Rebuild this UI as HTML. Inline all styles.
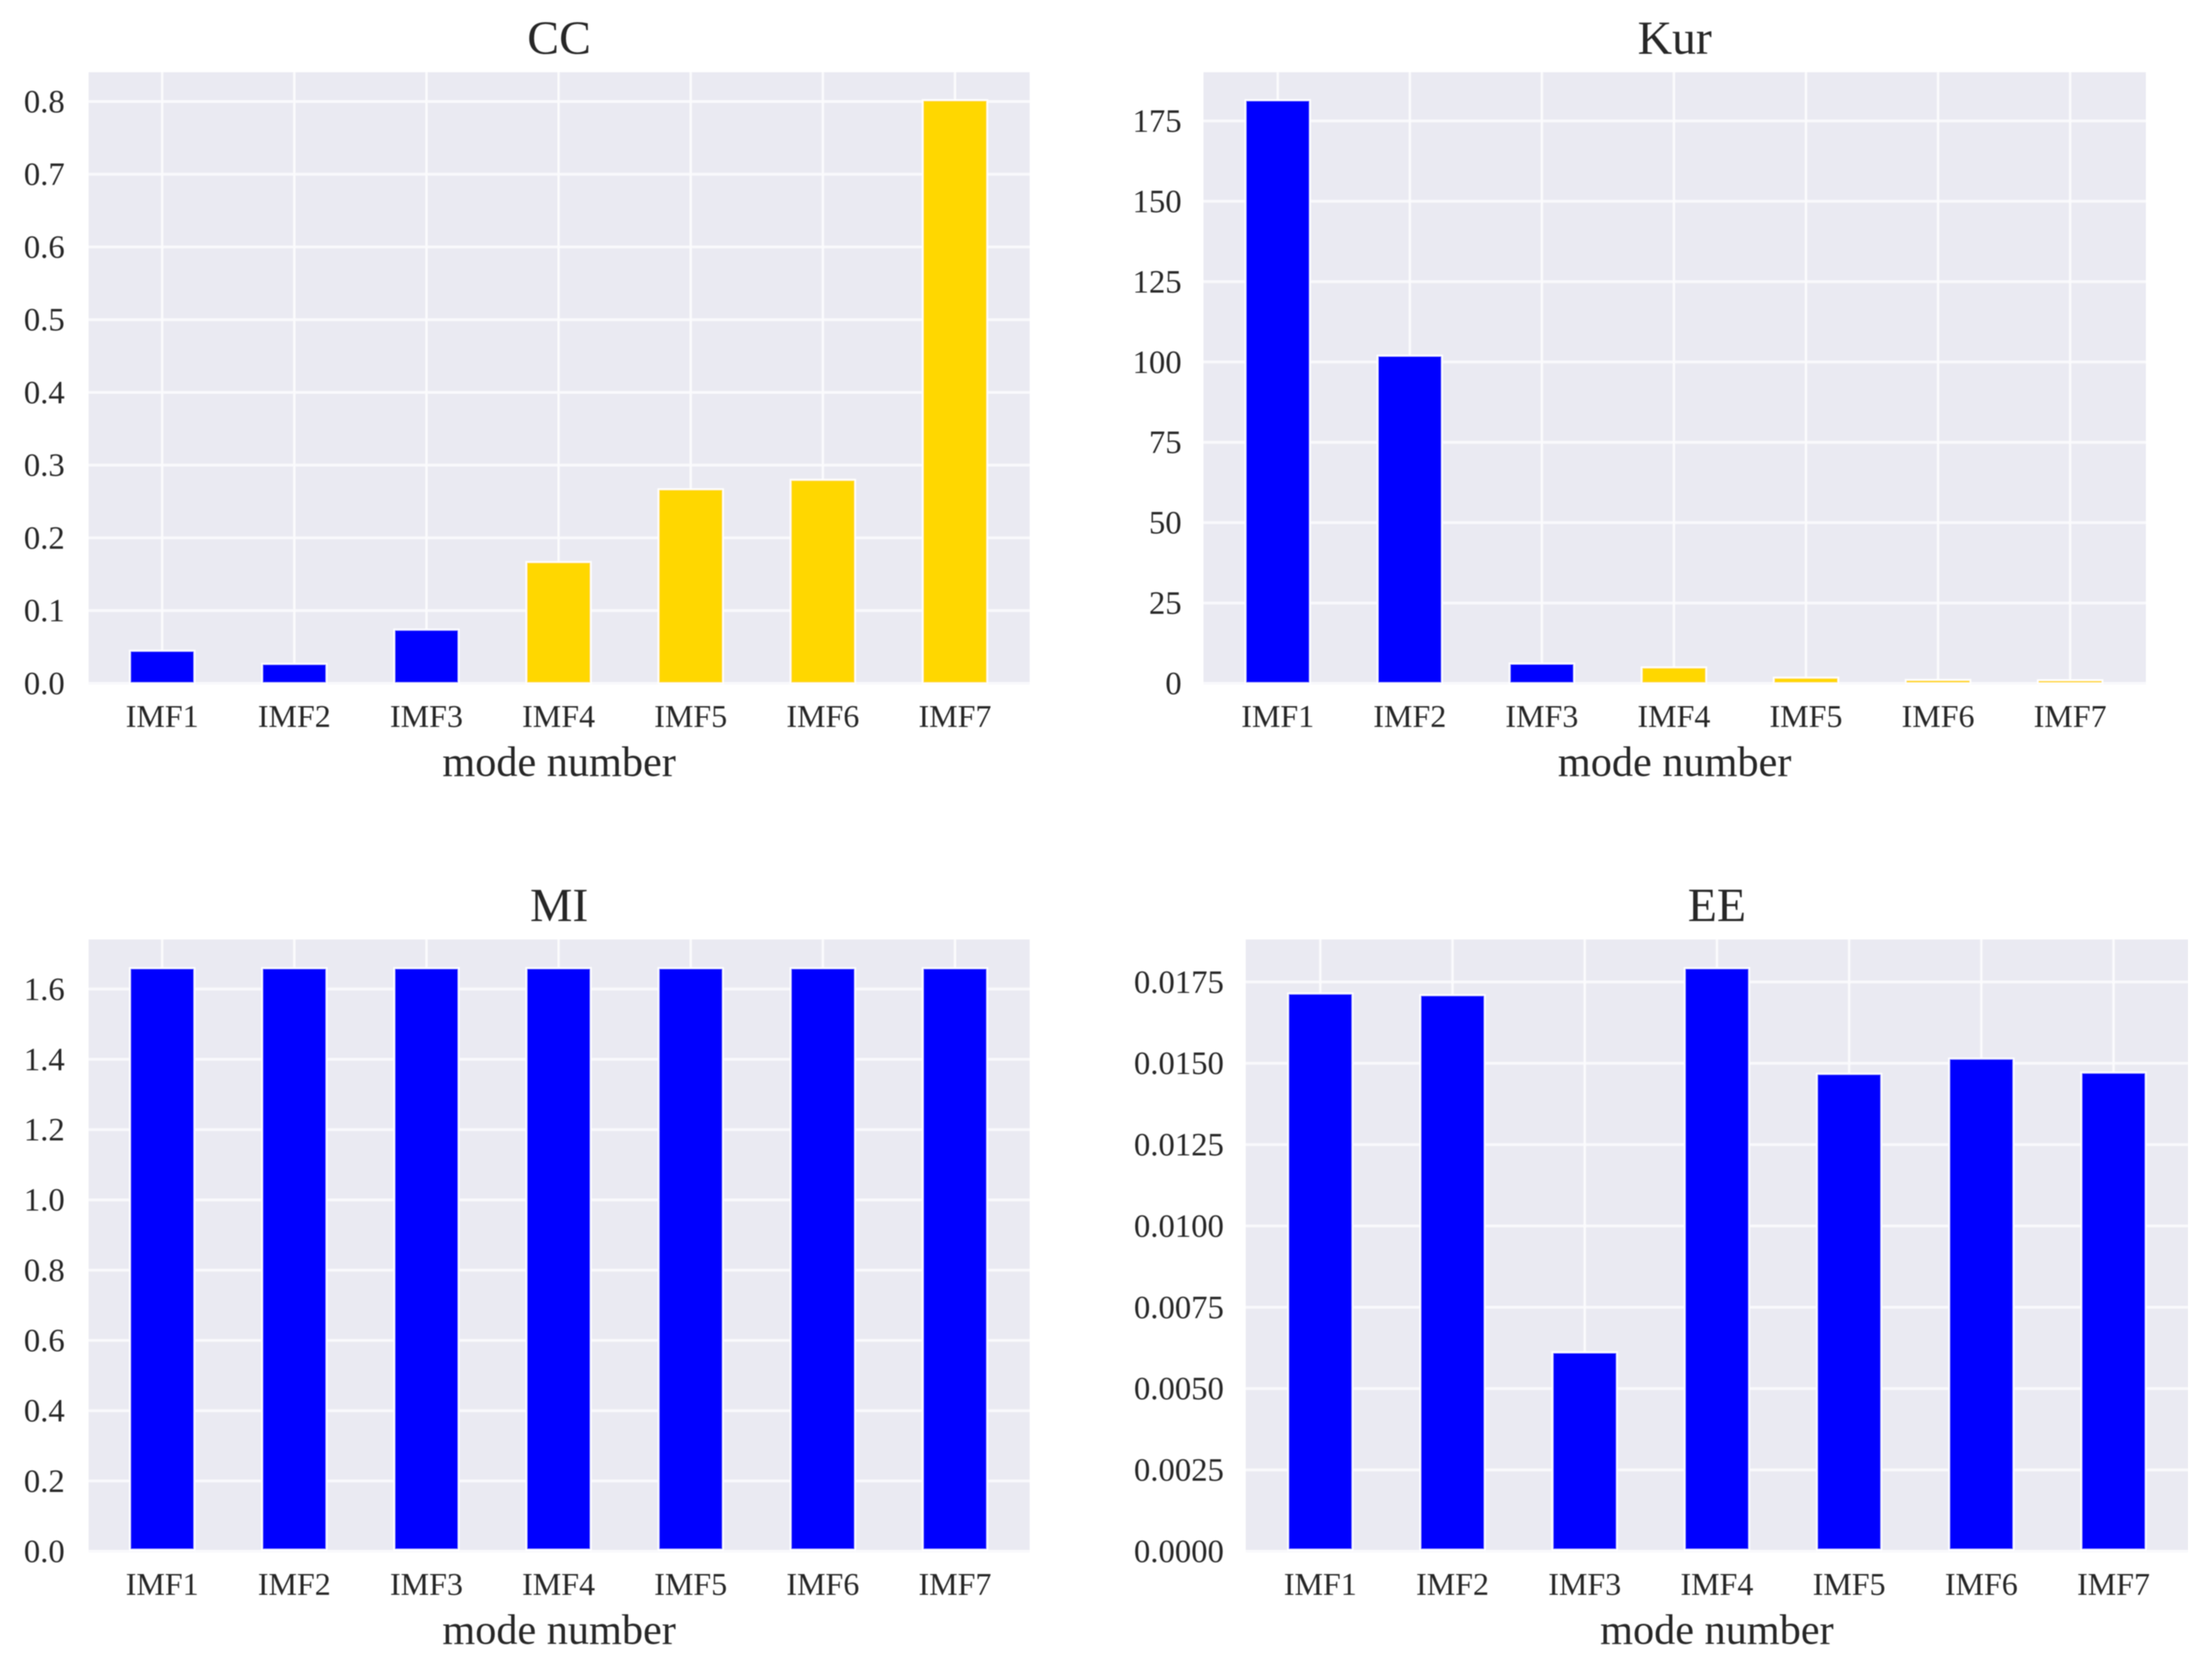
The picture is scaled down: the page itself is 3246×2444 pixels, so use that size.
<!DOCTYPE html>
<html lang="en">
<head>
<meta charset="utf-8">
<title>CC, Kur, MI and EE by mode number</title>
<style>
  html, body { margin: 0; padding: 0; background: #ffffff; }
  svg { display: block; }
  text { font-family: "Liberation Serif", "DejaVu Serif", serif; fill: #262626; }
</style>
</head>
<body>
<svg id="figure" xmlns="http://www.w3.org/2000/svg" width="3246" height="2444" viewBox="0 0 3246 2444">
  <defs>
    <filter id="soft" x="0" y="0" width="100%" height="100%" filterUnits="objectBoundingBox">
      <feGaussianBlur stdDeviation="0.8"/>
    </filter>
  </defs>
  <rect x="0" y="0" width="3246" height="2444" fill="#ffffff"/>
  <g id="root" filter="url(#soft)"></g>
</svg>
<script>
const categories = ['IMF1', 'IMF2', 'IMF3', 'IMF4', 'IMF5', 'IMF6', 'IMF7'];

const ccValues = [0.045, 0.027, 0.074, 0.167, 0.267, 0.28, 0.802];
const kurValues = [181.5, 102, 6.2, 5, 1.8, 1.1, 1];
const miValues = [1.66, 1.66, 1.66, 1.66, 1.66, 1.66, 1.66];
const eeValues = [0.01715, 0.0171, 0.00612, 0.01793, 0.01468, 0.01515, 0.01472];

const ccGroups = ['low', 'low', 'low', 'high', 'high', 'high', 'high'];
const kurGroups = ['low', 'low', 'low', 'high', 'high', 'high', 'high'];
const miGroups = ['low', 'low', 'low', 'low', 'low', 'low', 'low'];
const eeGroups = ['low', 'low', 'low', 'low', 'low', 'low', 'low'];

const ccTicks = ['0.0', '0.1', '0.2', '0.3', '0.4', '0.5', '0.6', '0.7', '0.8'];
const kurTicks = ['0', '25', '50', '75', '100', '125', '150', '175'];
const miTicks = ['0.0', '0.2', '0.4', '0.6', '0.8', '1.0', '1.2', '1.4', '1.6'];
const eeTicks = ['0.0000', '0.0025', '0.0050', '0.0075', '0.0100', '0.0125', '0.0150', '0.0175'];

const SVG_NS = 'http://www.w3.org/2000/svg';
const root = document.getElementById('root');
const groupFill = { low: '#0000ff', high: '#ffd700' };

function make(tag, attrs, parent) {
  const el = document.createElementNS(SVG_NS, tag);
  for (const k in attrs) el.setAttribute(k, attrs[k]);
  parent.appendChild(el);
  return el;
}

function drawPanel(cfg) {
  const g = make('g', {}, root);
  
  

  const yMax = Math.max.apply(null, cfg.values) * 1.05;
  const yScale = function (v) { return cfg.bottom - (v / yMax) * (cfg.bottom - cfg.top); };
  const xScale = function (i) { return cfg.x0 + i * cfg.step; };

  const bg = make('rect', { x: cfg.left, y: cfg.panelTop, width: cfg.right - cfg.left, height: cfg.bottom - cfg.panelTop, fill: '#eaeaf2' }, g);
  
  

  cfg.ticks.forEach(function (t) {
    const y = yScale(parseFloat(t));
    const line = make('line', { x1: cfg.left, x2: cfg.right, y1: y, y2: y, stroke: '#f9f9fc', 'stroke-width': 4 }, g);
    
    
    const label = make('text', { x: cfg.left - cfg.tickGap, y: y + 16, 'font-size': 48, 'text-anchor': 'end' }, g);
    
    
    label.textContent = t;
  });

  categories.forEach(function (c, i) {
    const x = xScale(i);
    const line = make('line', { x1: x, x2: x, y1: cfg.panelTop, y2: cfg.bottom, stroke: '#fbfbfd', 'stroke-width': 3.5 }, g);
    
    
  });

  categories.forEach(function (c, i) {
    const x = xScale(i);
    const yTop = yScale(cfg.values[i]);
    const bar = make('rect', {
      x: x - cfg.barWidth / 2,
      y: yTop,
      width: cfg.barWidth,
      height: Math.max(0, cfg.bottom - cfg.barInset - yTop),
      fill: groupFill[cfg.groups[i]],
      stroke: '#ffffff',
      'stroke-width': 2.5
    }, g);
    
    

    const label = make('text', { x: x, y: cfg.bottom + 64, 'font-size': 47, 'text-anchor': 'middle' }, g);
    
    
    label.textContent = c;
  });

  const mid = (cfg.left + cfg.right) / 2;
  const title = make('text', { x: mid, y: cfg.panelTop - 27, 'font-size': 70, 'text-anchor': 'middle' }, g);
  
  
  title.textContent = cfg.title;

  const xTitle = make('text', { x: mid, y: cfg.bottom + 136, 'font-size': 62, 'text-anchor': 'middle' }, g);
  
  
  xTitle.textContent = 'mode number';
}

drawPanel({ key: 'cc', title: 'CC', values: ccValues, groups: ccGroups, ticks: ccTicks,
  left: 130, right: 1511, panelTop: 106, top: 104, bottom: 1003, x0: 238, step: 193.9, barWidth: 95, barInset: 0, tickGap: 35 });
drawPanel({ key: 'kur', title: 'Kur', values: kurValues, groups: kurGroups, ticks: kurTicks,
  left: 1766, right: 3149, panelTop: 106, top: 104, bottom: 1003, x0: 1875, step: 193.8, barWidth: 95, barInset: 0, tickGap: 32 });
drawPanel({ key: 'mi', title: 'MI', values: miValues, groups: miGroups, ticks: miTicks,
  left: 130, right: 1511, panelTop: 1379, top: 1378, bottom: 2277, x0: 238, step: 193.9, barWidth: 95, barInset: 2, tickGap: 35 });
drawPanel({ key: 'ee', title: 'EE', values: eeValues, groups: eeGroups, ticks: eeTicks,
  left: 1828, right: 3211, panelTop: 1379, top: 1378, bottom: 2277, x0: 1937.5, step: 194, barWidth: 95, barInset: 2, tickGap: 32 });
</script>
</body>
</html>
